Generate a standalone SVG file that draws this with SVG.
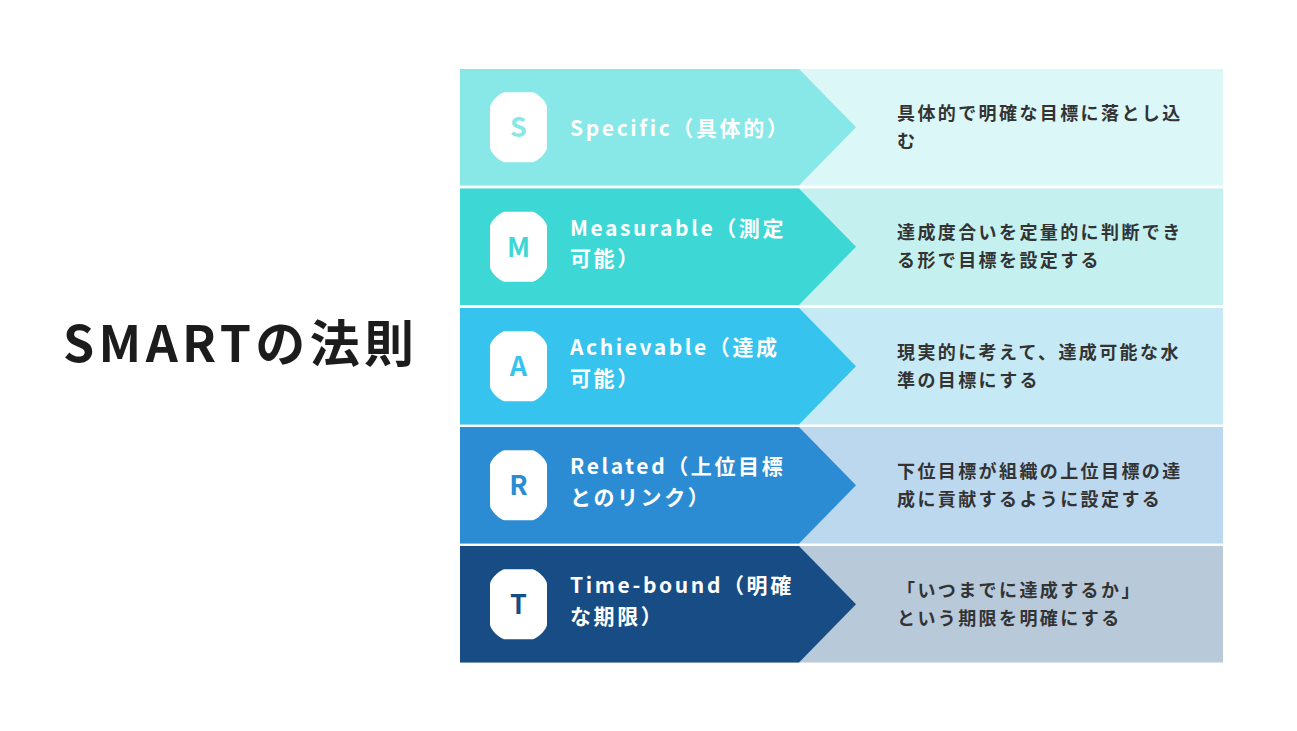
<svg xmlns="http://www.w3.org/2000/svg" xmlns:xlink="http://www.w3.org/1999/xlink" width="1297" height="731" viewBox="0 0 1297 731">
  <style>
    .title { font-family: "Noto Sans CJK JP", "Noto Sans", sans-serif; font-weight: 700; font-size: 50px; letter-spacing: 4.4px; fill: #1c1c1c; }
    .lbl { font-family: "Noto Sans CJK JP", "Noto Sans", sans-serif; font-weight: 700; font-size: 21px; letter-spacing: 2.6px; fill: #ffffff; }
    .desc { font-family: "Noto Sans CJK JP", "Noto Sans", sans-serif; font-weight: 700; font-size: 18px; letter-spacing: 2.4px; fill: #333333; }
    .ltr { font-family: "Noto Sans CJK JP", "Noto Sans", sans-serif; font-weight: 700; font-size: 27px; text-anchor: middle; }
    .badge { fill: #ffffff; }
  </style>
  <defs>
    <path id="badge" d="M0,15 C0,10 10,0 15,0 L42,0 C47,0 57,10 57,15 L57,55 C57,60 47,70 42,70 L15,70 C10,70 0,60 0,55 Z"/>
  </defs>
  <rect x="0" y="0" width="1297" height="731" fill="#ffffff"/>

  <g id="title">
    <text class="title" x="63" y="362">SMARTの法則</text>
  </g>

  <g id="row-s">
    <rect x="460" y="69" width="763" height="116.5" fill="#dcf7f8"/>
    <path d="M460,69 H799 L856,127.25 L799,185.5 H460 Z" fill="#88e7e7"/>
    <use xlink:href="#badge" href="#badge" x="490" y="92.25" class="badge"/>
    <text class="ltr" x="518.5" y="137" fill="#88e7e7">S</text>
    <text class="lbl" x="570" y="135.5">Specific（具体的）</text>
    <text class="desc" x="897" y="119.5">具体的で明確な目標に落とし込</text>
    <text class="desc" x="897" y="147.5">む</text>
  </g>

  <g id="row-m">
    <rect x="460" y="188.5" width="763" height="116.5" fill="#c4f0f0"/>
    <path d="M460,188.5 H799 L856,246.75 L799,305 H460 Z" fill="#3dd7d6"/>
    <use xlink:href="#badge" href="#badge" x="490" y="211.75" class="badge"/>
    <text class="ltr" x="518.5" y="256.5" fill="#3dd7d6">M</text>
    <text class="lbl" x="570" y="235.75">Measurable（測定</text>
    <text class="lbl" x="570" y="266.25">可能）</text>
    <text class="desc" x="897" y="238.5">達成度合いを定量的に判断でき</text>
    <text class="desc" x="897" y="266.5">る形で目標を設定する</text>
  </g>

  <g id="row-a">
    <rect x="460" y="308" width="763" height="116.5" fill="#c5eaf6"/>
    <path d="M460,308 H799 L856,366.25 L799,424.5 H460 Z" fill="#36c4ee"/>
    <use xlink:href="#badge" href="#badge" x="490" y="331.25" class="badge"/>
    <text class="ltr" x="518.5" y="376" fill="#36c4ee">A</text>
    <text class="lbl" x="570" y="355.25">Achievable（達成</text>
    <text class="lbl" x="570" y="385.75">可能）</text>
    <text class="desc" x="897" y="358.5">現実的に考えて、達成可能な水</text>
    <text class="desc" x="897" y="386.5">準の目標にする</text>
  </g>

  <g id="row-r">
    <rect x="460" y="427" width="763" height="116.5" fill="#bcd8ef"/>
    <path d="M460,427 H799 L856,485.25 L799,543.5 H460 Z" fill="#2b8cd3"/>
    <use xlink:href="#badge" href="#badge" x="490" y="450.25" class="badge"/>
    <text class="ltr" x="518.5" y="495" fill="#2b8cd3">R</text>
    <text class="lbl" x="570" y="474.25">Related（上位目標</text>
    <text class="lbl" x="570" y="504.75">とのリンク）</text>
    <text class="desc" x="897" y="477.5">下位目標が組織の上位目標の達</text>
    <text class="desc" x="897" y="505.5">成に貢献するように設定する</text>
  </g>

  <g id="row-t">
    <rect x="460" y="546" width="763" height="116.5" fill="#b8c9d9"/>
    <path d="M460,546 H799 L856,604.25 L799,662.5 H460 Z" fill="#174c85"/>
    <use xlink:href="#badge" href="#badge" x="490" y="569.25" class="badge"/>
    <text class="ltr" x="518.5" y="614" fill="#174c85">T</text>
    <text class="lbl" x="570" y="593.25">Time-bound（明確</text>
    <text class="lbl" x="570" y="623.75">な期限）</text>
    <text class="desc" x="897" y="596.5">「いつまでに達成するか」</text>
    <text class="desc" x="897" y="624.5">という期限を明確にする</text>
  </g>

  <g id="connectors"/>
</svg>
